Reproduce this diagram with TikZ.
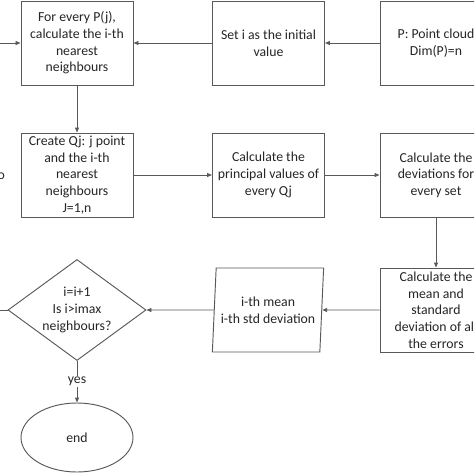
\documentclass[tikz,border=0pt]{standalone}
\usepackage{fontspec}
\setmainfont{Carlito}
\usetikzlibrary{shapes.geometric,arrows.meta}
\definecolor{linegray}{HTML}{595959}
\definecolor{textgray}{HTML}{262626}
\tikzset{
  procbox/.style={draw=linegray,line width=0.8pt,minimum width=3.36cm,minimum height=2.52cm,align=center,inner sep=0pt},
  decision/.style={draw=linegray,line width=0.8pt,diamond,aspect=1.37,minimum width=4.14cm,minimum height=3.03cm,align=center,inner sep=0pt},
  iobox/.style={draw=linegray,line width=0.8pt,trapezium,trapezium left angle=82.5,trapezium right angle=97.5,trapezium stretches=true,minimum width=3.36cm,minimum height=2.52cm,align=center,inner sep=0pt},
  terminal/.style={draw=linegray,line width=0.8pt,ellipse,minimum width=3.36cm,minimum height=2.07cm,inner sep=0pt},
  flow/.style={draw=linegray,line width=0.8pt,->}
}
\begin{document}
\begin{tikzpicture}[x=0.03cm,y=-0.03cm,>={Triangle[length=1.5mm,width=1.2mm]},
  font=\fontsize{11.75}{14.2}\selectfont,text=textgray]
  \useasboundingbox (0,0) rectangle (474,474);
  \clip (0,0) rectangle (474,474);
  \fill[white] (0,0) rectangle (474,474);
  % first row
  \node[procbox] (every) at (77,43) {For every P(j),\\calculate the i-th\\nearest\\neighbours};
  \node[procbox] (init) at (268.5,43) {Set i as the initial\\value};
  \node[procbox] (cloud) at (436,43) {P: Point cloud\\Dim(P)=n};
  % second row
  \node[procbox] (createq) at (77,175) {Create Qj: j point\\and the i-th\\nearest\\neighbours\\J=1,n};
  \node[procbox] (princ) at (268.5,175) {Calculate the\\principal values of\\every Qj};
  \node[procbox] (devs) at (436,175) {Calculate the\\deviations for\\every set};
  % third row
  \node[procbox] (meanstd) at (436,310) {Calculate the\\mean and\\standard\\deviation of all\\the errors};
  \node[iobox] (result) at (268,310) {i-th mean\\i-th std deviation};
  \node[decision] (check) at (77,310) {i=i+1\\Is i>imax\\neighbours?};
  \node[terminal] (stop) at (77,437.5) {end};
  \coordinate (loopb) at (-14,310);
  \coordinate (loopt) at (-14,43);
  % connectors
  \draw[flow] (cloud) -- (init);
  \draw[flow] (init) -- (every);
  \draw[flow] (every) -- (createq);
  \draw[flow] (createq) -- (princ);
  \draw[flow] (princ) -- (devs);
  \draw[flow] (devs) -- (meanstd);
  \draw[flow] (meanstd) -- (result);
  \draw[flow] (result) -- (check);
  \draw[flow] (check) -- node[fill=white,inner sep=1pt] {yes} (stop);
  \draw[flow] (check) -- (loopb) -- node[right] {no} (loopt) -- (every);
\end{tikzpicture}
\end{document}
